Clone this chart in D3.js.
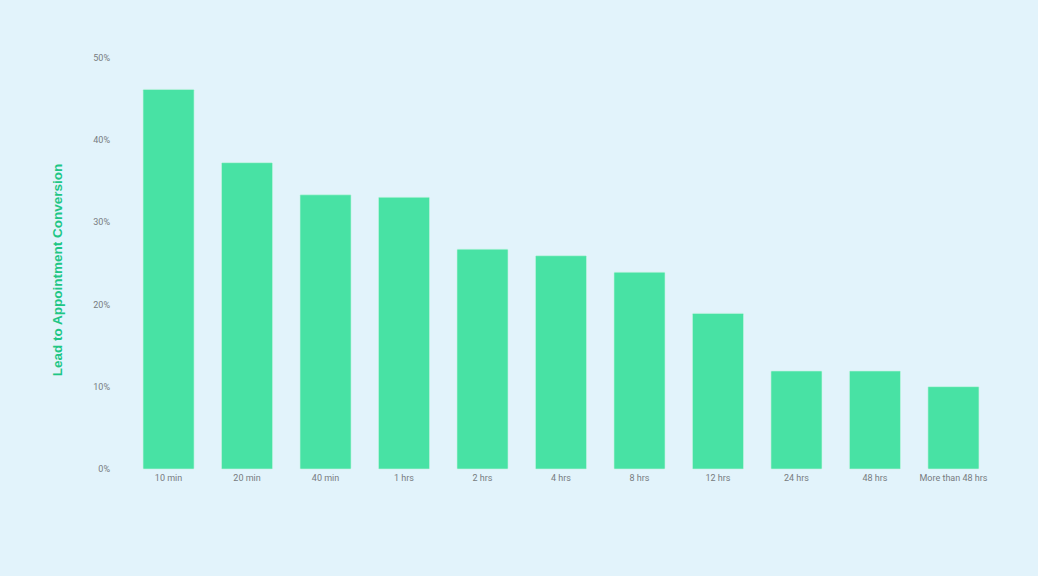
<!DOCTYPE html>
<html><head><meta charset="utf-8">
<script src="https://cdn.jsdelivr.net/npm/d3@7"></script>
<style>
html,body{margin:0;padding:0;background:#e2f3fb;}
svg{display:block;}
</style></head>
<body>
<svg id="chart" width="1038" height="576"></svg>
<script>
const categories = ["10 min","20 min","40 min","1 hrs","2 hrs","4 hrs","8 hrs","12 hrs","24 hrs","48 hrs","More than 48 hrs"];
const values = [46.1, 37.2, 33.3, 33.0, 26.7, 25.9, 23.9, 18.9, 11.9, 11.9, 10.0];
const yTicks = [0, 10, 20, 30, 40, 50];
const yTitle = "Lead to Appointment Conversion";

const svg = d3.select("#chart");
svg.append("rect").attr("width",1038).attr("height",576).attr("fill","#e2f3fb");

const x = d3.scaleBand().domain(categories).range([129.3, 992.7]).paddingInner(0.35).paddingOuter(0.175);
const y = d3.scaleLinear().domain([0, 50]).range([469, 57.3]);

svg.append("g").selectAll("rect").data(values).join("rect")
  .attr("x", (d,i) => x(categories[i]))
  .attr("y", d => y(d))
  .attr("width", x.bandwidth())
  .attr("height", d => y(0) - y(d))
  .attr("fill", "#48e2a4")
  .attr("stroke", "#c8f5e2")
  .attr("stroke-width", 0.6)
  .attr("rx", 0.8);

const yAxis = svg.append("g").attr("transform","translate(110,0)")
  .call(d3.axisLeft(y).tickValues(yTicks).tickFormat(d => d + "%").tickSize(0).tickPadding(0));
yAxis.select(".domain").remove();
yAxis.selectAll("text").attr("fill","#777b80").style("font-family","Roboto, Arial, sans-serif").style("font-size","9px");

const xAxis = svg.append("g").attr("transform","translate(0,469)")
  .call(d3.axisBottom(x).tickSize(0).tickPadding(6));
xAxis.select(".domain").remove();
xAxis.selectAll("text").attr("fill","#777b80").style("font-family","Roboto, Arial, sans-serif").style("font-size","9px");

svg.append("text")
  .attr("transform","translate(62,270) rotate(-90)")
  .attr("text-anchor","middle")
  .attr("fill","#1ec685")
  .style("font-family","Liberation Sans, Arial, sans-serif")
  .style("font-weight","bold")
  .style("font-size","13.5px")
  .text(yTitle);
</script>
</body></html>
